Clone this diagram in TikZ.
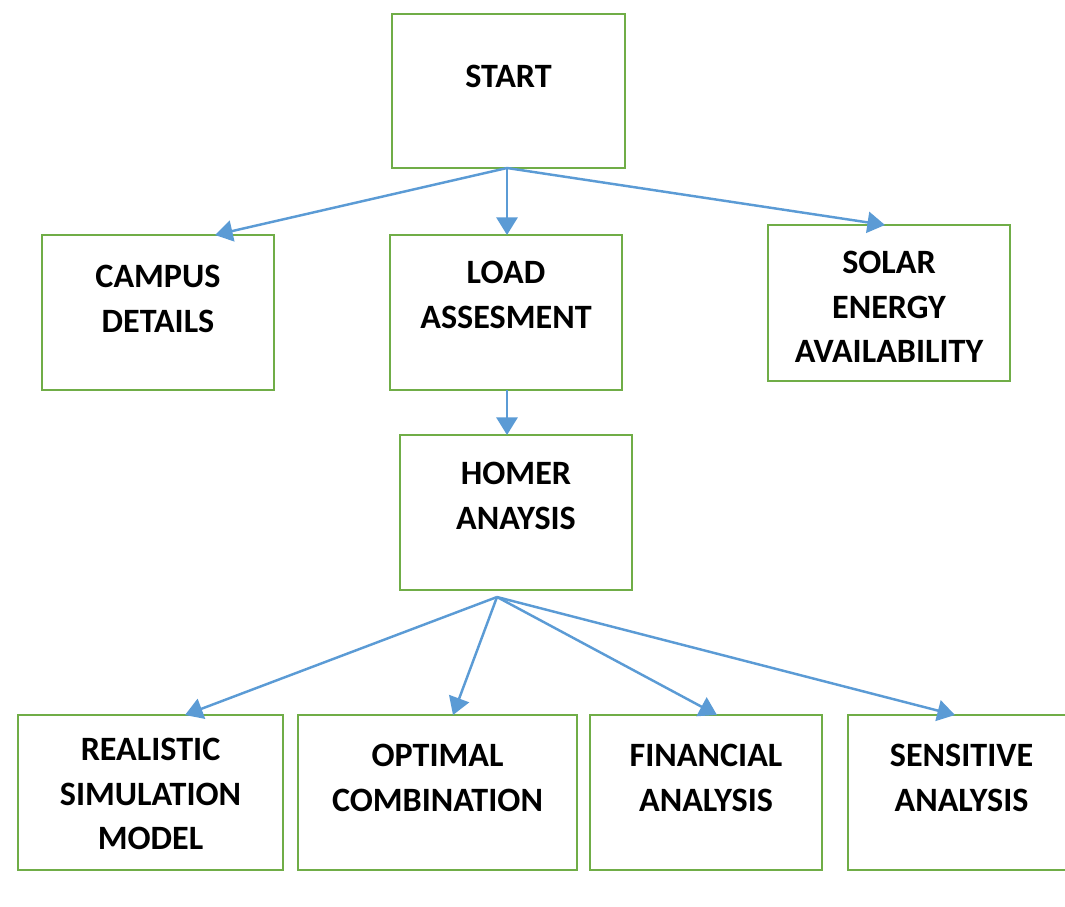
\documentclass[tikz,border=0pt]{standalone}
\usepackage{fontspec}
\setmainfont{Carlito}
\usetikzlibrary{arrows.meta}
\definecolor{bgreen}{RGB}{112,173,71}
\definecolor{ablue}{RGB}{91,155,213}
\begin{document}
\begin{tikzpicture}[x=0.01cm,y=-0.01cm,
 lbl/.style={inner sep=0pt,font=\bfseries\fontsize{9.7}{12.6}\selectfont,align=center},
 arr/.style={draw=ablue,line width=0.7pt,-{Triangle[length=5pt,width=6pt]}}]
\useasboundingbox (0,0) rectangle (1065,906);
\newcommand\bx[7]{\draw[bgreen,line width=0.6pt] (#2,#3) rectangle (#4,#5); \node[lbl] (#1) at ({(#2+#4)/2},#6) {#7};}
\bx{start}{392}{14}{625}{168}{76}{START}
\bx{campus}{42}{235}{274}{390}{299}{CAMPUS\\DETAILS}
\bx{load}{390}{235}{622}{390}{295}{LOAD\\ASSESMENT}
\bx{solar}{768}{225}{1010}{381}{307}{SOLAR\\ENERGY\\AVAILABILITY}
\bx{homer}{400}{435}{632}{590}{496}{HOMER\\ANAYSIS}
\bx{real}{18}{715}{283}{870}{794}{REALISTIC\\SIMULATION\\MODEL}
\bx{opt}{298}{715}{577}{870}{778}{OPTIMAL\\COMBINATION}
\bx{fin}{590}{715}{822}{870}{778}{FINANCIAL\\ANALYSIS}
\bx{sen}{848}{715}{1075}{870}{778}{SENSITIVE\\ANALYSIS}
\coordinate (s0) at (507,168);
\coordinate (h0) at (497,597);
\coordinate (ca) at (215,235);
\coordinate (la) at (507,235);
\coordinate (so) at (885,225);
\coordinate (lb) at (507,390);
\coordinate (ha) at (507,435);
\coordinate (r1) at (185,715);
\coordinate (r2) at (453,715);
\coordinate (r3) at (717,715);
\coordinate (r4) at (955,715);
\draw[arr] (s0) -- (ca);
\draw[arr] (s0) -- (la);
\draw[arr] (s0) -- (so);
\draw[arr] (lb) -- (ha);
\draw[arr] (h0) -- (r1);
\draw[arr] (h0) -- (r2);
\draw[arr] (h0) -- (r3);
\draw[arr] (h0) -- (r4);
\end{tikzpicture}
\end{document}
